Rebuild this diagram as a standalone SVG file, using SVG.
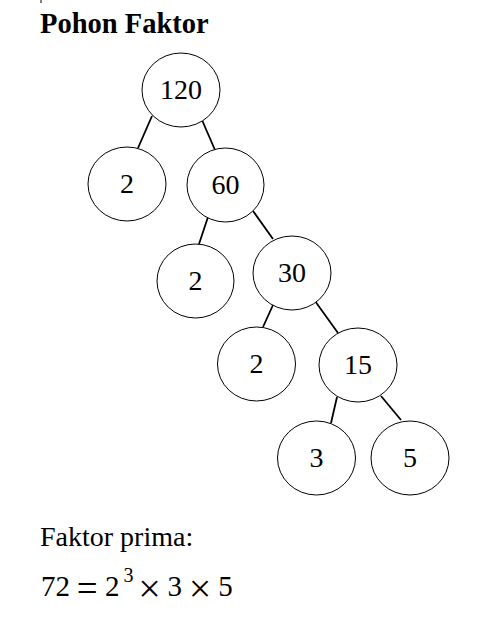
<svg xmlns="http://www.w3.org/2000/svg" width="488" height="618" viewBox="0 0 488 618">
<style>
.n ellipse{fill:#fff;stroke:#000;stroke-width:1}
.n text{font-size:28px;text-anchor:middle;fill:#000}
.e line{stroke:#000;stroke-width:1.8}
.m text{text-anchor:middle;fill:#000}
</style>
<rect width="488" height="618" fill="#fff"/>
<line x1="41" y1="0" x2="41" y2="3" stroke="#000" stroke-width="1"/>
<text x="40" y="33" font-family="Liberation Serif, serif" font-size="28.5" font-weight="bold">Pohon Faktor</text>
<g class="e">
<line x1="152" y1="116" x2="138" y2="148"/>
<line x1="202" y1="120" x2="215" y2="150"/>
<line x1="208" y1="217" x2="199" y2="244"/>
<line x1="253" y1="211" x2="273" y2="239"/>
<line x1="273" y1="305" x2="263" y2="327"/>
<line x1="315" y1="301" x2="338" y2="333"/>
<line x1="337" y1="397" x2="331" y2="423"/>
<line x1="381" y1="396" x2="401" y2="420"/>
</g>
<g font-family="Liberation Serif, serif">
<g id="n120" class="n"><ellipse cx="181" cy="90" rx="39" ry="37"/><text x="181" y="99">120</text></g>
<g id="n2a" class="n"><ellipse cx="127" cy="184" rx="39" ry="37"/><text x="127" y="193">2</text></g>
<g id="n60" class="n"><ellipse cx="225.5" cy="185" rx="38.5" ry="37"/><text x="225.5" y="194">60</text></g>
<g id="n2b" class="n"><ellipse cx="195.5" cy="281" rx="38.5" ry="37"/><text x="195.5" y="290">2</text></g>
<g id="n30" class="n"><ellipse cx="292" cy="273" rx="39" ry="37"/><text x="292" y="282">30</text></g>
<g id="n2c" class="n"><ellipse cx="256.5" cy="364" rx="39" ry="37"/><text x="256.5" y="373">2</text></g>
<g id="n15" class="n"><ellipse cx="358" cy="365" rx="39" ry="37"/><text x="358" y="374">15</text></g>
<g id="n3" class="n"><ellipse cx="316.5" cy="458" rx="39" ry="37"/><text x="316.5" y="467">3</text></g>
<g id="n5" class="n"><ellipse cx="410" cy="458" rx="39" ry="37"/><text x="410" y="467">5</text></g>
</g>
<text x="40" y="546" font-family="Liberation Serif, serif" font-size="28">Faktor prima:</text>
<g class="m" font-family="Liberation Serif, serif" font-size="29">
<text x="55.5" y="596">72</text>
<text x="87.3" y="600.5" font-size="37">=</text>
<text x="112.3" y="596">2</text>
<text x="128.5" y="582" font-size="20">3</text>
<text x="149.5" y="601.5" font-size="40">×</text>
<text x="174.7" y="596">3</text>
<text x="200" y="601.5" font-size="40">×</text>
<text x="225.5" y="596">5</text>
</g>
</svg>
